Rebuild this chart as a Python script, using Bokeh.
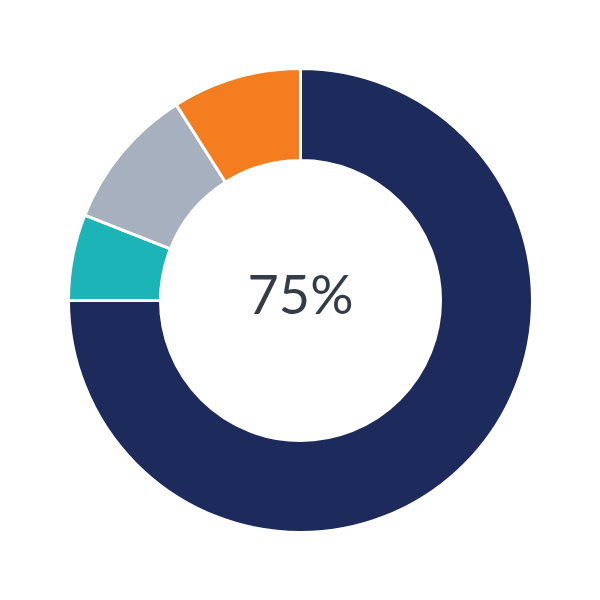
import math
from bokeh.plotting import figure
from bokeh.models import ColumnDataSource
from bokeh.core.properties import value
from bokeh.embed import file_html
from bokeh.resources import INLINE

categories = ["A", "B", "C", "D"]
values = [75, 6, 10, 9]
colors = ["#1c2b5b", "#1cb4b6", "#a7b0be", "#f47d20"]
center_label = "75%"

total = sum(values)
starts, ends = [], []
cum = 0
for v in values:
    starts.append(math.pi / 2 - 2 * math.pi * cum / total)
    cum += v
    ends.append(math.pi / 2 - 2 * math.pi * cum / total)

src = ColumnDataSource(dict(cat=categories, val=values, color=colors, start=starts, end=ends))

p = figure(width=584, height=584, x_range=(-300, 284), y_range=(-284, 300),
           output_backend="svg", toolbar_location=None, min_border=0)
p.axis.visible = False
p.grid.visible = False
p.outline_line_color = None
p.background_fill_color = "white"

p.annular_wedge(x=0, y=0, inner_radius=140, outer_radius=232,
                start_angle="start", end_angle="end", direction="clock",
                fill_color="color", line_color="white", line_width=3, source=src)

p.text(x=[0], y=[0], y_offset=-7, text=[center_label], text_align="center", text_baseline="middle",
       text_font=value("Lato"), text_font_size="54px", text_color="#343d46")

open("out.html", "w").write(file_html(p, INLINE))
